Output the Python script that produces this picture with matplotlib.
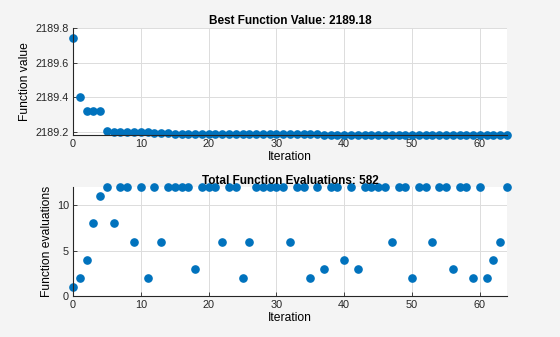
import matplotlib
matplotlib.use("Agg")
import matplotlib.pyplot as plt
from matplotlib.ticker import FormatStrFormatter

# Optimizer progress: best objective value and evaluations per iteration
iterations = list(range(65))
best_fval = [
    2189.742, 2189.402, 2189.317, 2189.317, 2189.317,
    2189.201, 2189.200, 2189.200, 2189.199, 2189.199, 2189.198,
    2189.195, 2189.194, 2189.190, 2189.189, 2189.188, 2189.188,
    2189.187, 2189.187, 2189.186, 2189.186, 2189.186, 2189.185,
    2189.185, 2189.185, 2189.185, 2189.184, 2189.184, 2189.184,
    2189.184, 2189.184, 2189.183, 2189.183, 2189.183, 2189.183,
    2189.183, 2189.183, 2189.182, 2189.182, 2189.182, 2189.182,
    2189.182, 2189.182, 2189.182, 2189.182, 2189.181, 2189.181,
    2189.181, 2189.181, 2189.181, 2189.181, 2189.181, 2189.181,
    2189.181, 2189.181, 2189.180, 2189.180, 2189.180, 2189.180,
    2189.180, 2189.180, 2189.180, 2189.180, 2189.180, 2189.180,
]
func_evals = [
    1, 2, 4, 8, 11, 12, 8, 12, 12, 6, 12, 2, 12, 6, 12, 12,
    12, 12, 3, 12, 12, 12, 6, 12, 12, 2, 6, 12, 12, 12, 12, 12,
    6, 12, 12, 2, 12, 3, 12, 12, 4, 12, 3, 12, 12, 12, 12, 6,
    12, 12, 2, 12, 12, 6, 12, 12, 3, 12, 12, 2, 12, 2, 4, 6, 12,
]

plt.rcParams["font.family"] = ["Liberation Sans", "DejaVu Sans"]
BLUE = "#0072BD"
BG = "#f4f4f4"

fig = plt.figure(figsize=(5.6, 3.37), dpi=100, facecolor=BG)
ax1 = fig.add_axes([73 / 560, 1 - 135 / 337, 434 / 560, 107 / 337])
ax2 = fig.add_axes([73 / 560, 1 - 296 / 337, 434 / 560, 109 / 337])


def style(ax):
    ax.set_facecolor("white")
    ax.grid(True, color="#dcdcdc", linewidth=0.7)
    ax.set_axisbelow(True)
    for side in ("top", "right"):
        ax.spines[side].set_visible(False)
    for side in ("left", "bottom"):
        ax.spines[side].set_color("#262626")
        ax.spines[side].set_linewidth(0.8)
    ax.tick_params(direction="in", length=3, width=0.6, labelsize=7.8,
                   colors="#262626", pad=3)
    ax.set_xlim(0, 64)
    ax.set_xticks(range(0, 61, 10))


ax1.plot(iterations, best_fval, "o", color=BLUE, markersize=5.2,
         clip_on=False)
style(ax1)
ax1.set_ylim(2189.18, 2189.8)
ax1.set_yticks([2189.2, 2189.4, 2189.6, 2189.8])
ax1.yaxis.set_major_formatter(FormatStrFormatter("%.1f"))
ax1.set_title(f"Best Function Value: {best_fval[-1]:.2f}", fontsize=8.5,
              fontweight="bold", pad=3)
ax1.set_xlabel("Iteration", fontsize=8.7, labelpad=1)
ax1.set_ylabel("Function value", fontsize=8.7, labelpad=3)

ax2.plot(iterations, func_evals, "o", color=BLUE, markersize=5.2,
         clip_on=False)
style(ax2)
ax2.set_ylim(0, 12)
ax2.set_yticks([0, 5, 10])
ax2.set_title(f"Total Function Evaluations: {sum(func_evals)}", fontsize=8.5,
              fontweight="bold", pad=0)
ax2.set_xlabel("Iteration", fontsize=8.7, labelpad=1)
ax2.set_ylabel("Function evaluations", fontsize=8.7, labelpad=3)

fig.savefig("out.png", dpi=100, facecolor=BG)
